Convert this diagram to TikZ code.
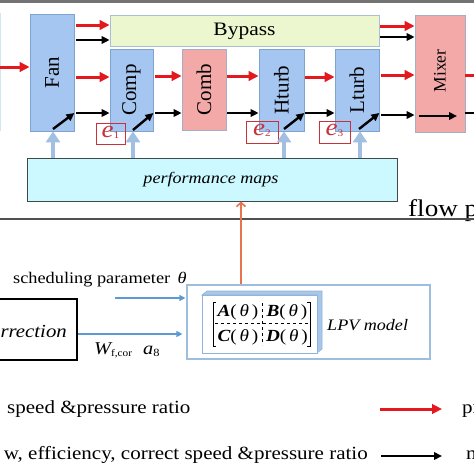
\documentclass[tikz,border=0pt]{standalone}
\usepackage{fontspec}
\setmainfont{Liberation Serif}[FakeStretch=1.13]
\newfontfamily\rotfont{Liberation Serif}
\usetikzlibrary{arrows.meta}
\definecolor{boxblue}{HTML}{A4C6F0}
\definecolor{boxblueedge}{HTML}{7EA3CF}
\definecolor{bypassfill}{HTML}{EDF7CF}
\definecolor{bypassedge}{HTML}{A9BFD6}
\definecolor{pinkfill}{HTML}{F4A9A9}
\definecolor{pinkedge}{HTML}{A3AFC6}
\definecolor{redarrow}{HTML}{E3191E}
\definecolor{upblue}{HTML}{A1BFE0}
\definecolor{mapfill}{HTML}{CCF9FF}
\definecolor{mapedge}{HTML}{404848}
\definecolor{ered}{HTML}{C8323A}
\definecolor{orangearr}{HTML}{E8734F}
\definecolor{lpvedge}{HTML}{9DBEDF}
\definecolor{schedblue}{HTML}{5B9BD5}
\definecolor{grayline}{HTML}{505050}
\definecolor{cubeface}{HTML}{A9C8E8}
\definecolor{cubeedge}{HTML}{8FB3DA}
\definecolor{inletedge}{HTML}{CFE9F4}
\tikzset{
  blk/.style={draw=boxblueedge, fill=boxblue, line width=0.8pt, inner sep=0pt},
  pinkblk/.style={draw=pinkedge, fill=pinkfill, line width=0.8pt, inner sep=0pt},
  rlabel/.style={rotate=90, font=\rotfont\fontsize{21}{24}\selectfont, inner sep=0pt},
  redarr/.style={draw=redarrow, line width=3pt, -{Triangle[length=10pt,width=9.5pt]}},
  blkarr/.style={draw=black, line width=2.4pt, -{Triangle[length=8pt,width=7.5pt]}},
  uparr/.style={draw=upblue, line width=4.5pt, -{Triangle[length=11pt,width=14pt]}},
  ebox/.style={draw=ered, line width=1pt, inner sep=0pt, minimum width=30pt, minimum height=21pt},
  elabel/.style={text=ered, font=\fontsize{24}{24}\selectfont\itshape, inner sep=0pt},
  schedarr/.style={draw=schedblue, line width=1.5pt, -{Triangle[length=6pt,width=6pt]}},
  orarr/.style={draw=orangearr, line width=1.6pt, -{Straight Barb[length=4pt,width=9pt]}},
  txt/.style={inner sep=0pt},
}
\newcommand{\msym}[1]{{\bfseries\itshape #1}(\,{\itshape θ}\,)}
\begin{document}
\begin{tikzpicture}[x=1pt,y=-1pt]
\useasboundingbox (0,0) rectangle (474,474);
\clip (0,0) rectangle (474,474);
\fill[white] (0,0) rectangle (474,474);
% top gray bar
\fill[grayline!80] (0,0) rectangle (474,2.5);
% inlet sliver
\draw[inletedge, line width=1pt] (-5,13) rectangle (0.6,130);

% component boxes
\node[blk, minimum width=44pt, minimum height=117pt] (fan) at (52,72.5) {};
\node[draw=bypassedge, fill=bypassfill, line width=0.8pt, minimum width=269pt, minimum height=31pt] (bypass) at (244.5,30.5) {};
\node[blk, minimum width=43pt, minimum height=82pt] (comp) at (131.5,90) {};
\node[pinkblk, minimum width=44pt, minimum height=81pt] (comb) at (204,89.5) {};
\node[blk, minimum width=45pt, minimum height=82pt] (hturb) at (281.5,90) {};
\node[blk, minimum width=44pt, minimum height=82pt] (lturb) at (357,90) {};
\node[pinkblk, minimum width=50pt, minimum height=117pt] (mixer) at (440,73.5) {};

\node[rlabel] (fant) at (fan) {Fan};
\node[txt, font=\fontsize{19}{22}\selectfont] (bypt) at (244.5,31) {Bypass};
\node[rlabel] (compt) at (comp) {Comp};
\node[rlabel] (combt) at (comb) {Comb};
\node[rlabel] (hturbt) at (hturb) {Hturb};
\node[rlabel] (lturbt) at (lturb) {Lturb};
\node[rlabel, font=\rotfont\fontsize{17.5}{20}\selectfont] (mixert) at (440,71) {Mixer};

% level coordinates
\coordinate (r1) at (0,25);
\coordinate (r1b) at (0,26);
\coordinate (k1) at (0,40);
\coordinate (k1b) at (0,37);
\coordinate (r2) at (0,77);
\coordinate (r2b) at (0,76);
\coordinate (r2c) at (0,75);
\coordinate (k2) at (0,113);
\coordinate (k2b) at (0,115);
\coordinate (inl) at (0,67);
\coordinate (redge) at (476,0);

% inlet
\draw[redarr] (inl) -- (fan.west |- inl);
% fan outputs
\draw[redarr, shorten <=2pt] (fan.east |- r1) -- (bypass.west |- r1);
\draw[blkarr, shorten <=2pt] (fan.east |- k1) -- (bypass.west |- k1);
\draw[redarr, shorten <=2pt] (fan.east |- r2) -- (comp.west |- r2);
\draw[blkarr, shorten <=2pt] (fan.east |- k2) -- (comp.west |- k2);
% comp -> comb
\draw[redarr, shorten <=2pt] (comp.east |- r2b) -- (comb.west |- r2b);
\draw[blkarr, shorten <=2pt] (comp.east |- k2) -- (comb.west |- k2);
% comb -> hturb
\draw[redarr, shorten <=1pt] (comb.east |- r2b) -- (hturb.west |- r2b);
\draw[blkarr, shorten <=1pt] (comb.east |- k2) -- (hturb.west |- k2);
% hturb -> lturb
\draw[redarr, shorten <=1pt] (hturb.east |- r2) -- (lturb.west |- r2);
\draw[blkarr, shorten <=1pt] (hturb.east |- k2) -- (lturb.west |- k2);
% bypass -> mixer
\draw[redarr, shorten <=1pt] (bypass.east |- r1b) -- (mixer.west |- r1b);
\draw[blkarr, shorten <=1pt] (bypass.east |- k1b) -- (mixer.west |- k1b);
% lturb -> mixer
\draw[redarr, shorten <=2pt] (lturb.east |- r2c) -- (mixer.west |- r2c);
\draw[blkarr, shorten <=2pt] (lturb.east |- k2b) -- (mixer.west |- k2b);
% inside mixer
\coordinate (mxa) at (419,116);
\coordinate (mxb) at (457,116);
\draw[blkarr] (mxa) -- (mxb);
% mixer outputs
\draw[draw=redarrow, line width=3pt] (mixer.east |- r2c) -- (redge |- r2c);
\draw[draw=black, line width=2.4pt] (mixer.east |- k2) -- (redge |- k2);

% diagonal arrows
\coordinate (d1) at (53,129);
\coordinate (d2) at (133,130);
\coordinate (d3) at (284,129);
\coordinate (d4) at (359,129);
\draw[blkarr] (d1) -- (fan.east |- k2);
\draw[blkarr] (d2) -- (comp.east |- k2);
\draw[blkarr] (d3) -- (hturb.east |- k2);
\draw[blkarr] (d4) -- (lturb.east |- k2);

% e boxes
\node[ebox, minimum width=29pt] (e1) at (110.5,133.5) {};
\node[ebox, minimum width=32pt, minimum height=22pt] (e2) at (262,132) {};
\node[ebox, minimum width=31pt, minimum height=22pt] (e3) at (334.5,132) {};
\node[elabel] (e1t) at (110.5,132) {e\raisebox{-1pt}{\upshape\fontsize{10}{10}\selectfont 1}};
\node[elabel] (e2t) at (262,130.5) {e\raisebox{-1pt}{\upshape\fontsize{10}{10}\selectfont 2}};
\node[elabel] (e3t) at (334.5,130.5) {e\raisebox{-1pt}{\upshape\fontsize{10}{10}\selectfont 3}};

% performance maps
\node[draw=mapedge, fill=mapfill, line width=1pt, minimum width=370pt, minimum height=43pt] (perf) at (212,179.5) {};
\node[txt, font=\fontsize{16}{20}\selectfont\itshape] (perft) at (211,180) {performance maps};

% up arrows
\coordinate (u1) at (53,0);
\coordinate (u2) at (133,0);
\coordinate (u3) at (284,0);
\coordinate (u4) at (360,0);
\draw[uparr] (perf.north -| u1) -- (fan.south -| u1);
\draw[uparr] (perf.north -| u2) -- (comp.south -| u2);
\draw[uparr] (perf.north -| u3) -- (hturb.south -| u3);
\draw[uparr] (perf.north -| u4) -- (lturb.south -| u4);

% flow path label and separator
\node[txt, anchor=base west, font=\fontsize{24}{26}\selectfont] (flowt) at (408,216) {flow pa};
\coordinate (sepl) at (0,219);
\coordinate (sepr) at (474,219);
\draw[grayline, line width=1.5pt] (sepl) -- (sepr);

% LPV model
\node[draw=lpvedge, fill=white, line width=1.2pt, minimum width=243pt, minimum height=74pt] (lpv) at (308.5,322) {};
\fill[cubeface, draw=cubeedge, line width=0.6pt] (202,295) -- (207,291) -- (322,291) -- (322,349) -- (317,353) -- (317,295) -- cycle;
\node[draw=cubeedge, fill=white, line width=0.6pt, minimum width=115pt, minimum height=58pt] (mat) at (259.5,324) {};
\node[txt, font=\fontsize{17}{20}\selectfont] (ma) at (238,312) {\msym{A}};
\node[txt, font=\fontsize{17}{20}\selectfont] (mb) at (287,312) {\msym{B}};
\node[txt, font=\fontsize{17}{20}\selectfont] (mc) at (238,337) {\msym{C}};
\node[txt, font=\fontsize{17}{20}\selectfont] (md) at (287,337) {\msym{D}};
\draw[line width=0.8pt] (216,302) -- (213,302) -- (213,346) -- (216,346);
\draw[line width=0.8pt] (307,302) -- (310,302) -- (310,346) -- (307,346);
\draw[dashed, line width=0.7pt] (215,323.5) -- (309,323.5);
\draw[dashed, line width=0.7pt] (262,303) -- (262,345);
\node[txt, anchor=base west, font=\fontsize{16}{20}\selectfont\itshape] (lpvt) at (327,330) {LPV model};

% orange arrow
\coordinate (ox) at (241,0);
\draw[orarr] (lpv.north -| ox) -- (perf.south -| ox);

% scheduling parameter
\node[txt, anchor=base west, font=\fontsize{16.2}{20}\selectfont] (scht) at (13,283) {scheduling parameter\, {\itshape θ}};
\coordinate (sch) at (115,298);
\draw[schedarr, shorten >=1pt] (sch) -- (lpv.west |- sch);

% correction box
\node[draw=black, line width=2pt, minimum width=90pt, minimum height=61pt] (corr) at (32,329.5) {};
\node[txt, anchor=east, font=\fontsize{18.4}{22}\selectfont\itshape] (corrt) at (67,331) {rrection};
\coordinate (cw) at (0,334);
\draw[schedarr, shorten >=4pt] (corr.east |- cw) -- (lpv.west |- cw);
\node[txt, anchor=base west, font=\fontsize{18}{20}\selectfont] (wft) at (94,354) {{\itshape W}\raisebox{-2.5pt}{\fontsize{10}{12}\selectfont f,cor}};
\node[txt, anchor=base west, font=\fontsize{18}{20}\selectfont] (a8t) at (143,354) {{\itshape a}\raisebox{-2.5pt}{\fontsize{11}{12}\selectfont 8}};

% legend
\node[txt, anchor=base west, font=\fontsize{18.6}{22}\selectfont] (leg1) at (7,413) {speed \&pressure ratio};
\node[txt, anchor=base east, font=\fontsize{18.6}{22}\selectfont] (leg2) at (368,459) {w, efficiency, correct speed \&pressure ratio};
\coordinate (la1) at (380,409);
\coordinate (lb1) at (442,409);
\coordinate (la2) at (381,456);
\coordinate (lb2) at (442,456);
\draw[redarr] (la1) -- (lb1);
\draw[blkarr] (la2) -- (lb2);
\node[txt, anchor=base west, font=\fontsize{18.6}{22}\selectfont] (leg3) at (462,413) {pr};
\node[txt, anchor=base west, font=\fontsize{18.6}{22}\selectfont] (leg4) at (466,459) {m};
\end{tikzpicture}
\end{document}
